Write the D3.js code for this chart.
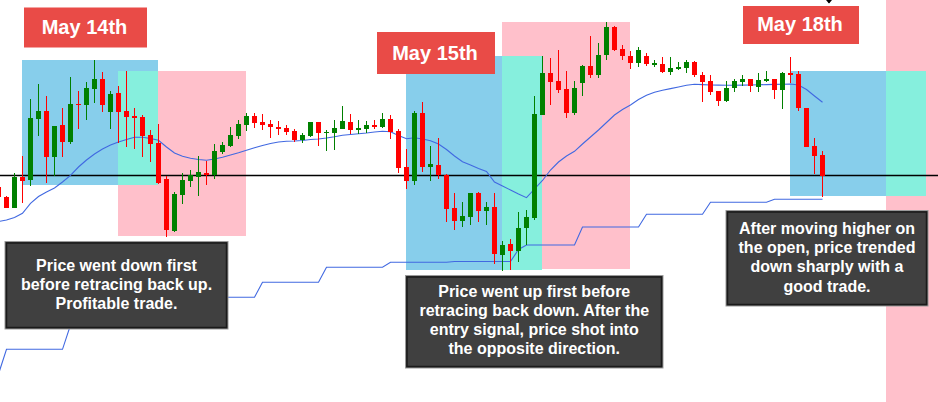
<!DOCTYPE html>
<html>
<head>
<meta charset="utf-8">
<script src="https://cdn.jsdelivr.net/npm/d3@7"></script>
<style>
  html, body { margin: 0; padding: 0; background: #ffffff; }
  svg { display: block; }
</style>
</head>
<body>
<svg id="chart" width="938" height="402"></svg>
<script>
// ---------------- DATA ----------------
const opens = [213.3,203.3,192.3,223,220.3,281.3,289,243.3,274.7,258.3,
  296.3,295.3,311.3,321,288.3,307,289,284,283,265,
  257.3,221,169.3,205.3,219.3,223.3,227,224.7,248,254.3,
  264.3,275.3,284,278,276.3,273,272,269,260,264.3,
  278,266.7,267.3,271.3,278,270,271,275,273,281,
  269,233,219.3,287,233.3,235,225,192,179.3,183.3,
  207,189.3,193,145,156,149,172,182,285,327,
  319,311,287.3,317.3,334,325,345,373,351,344,
  337.3,344,335.3,336,328,331,332,338,325,319,
  309,299,312,318,321,313,319,321,310,327,
  326,292,254,245];
const highs = [215,204,226.7,244,301,316,304,274,292,323,
  309.3,318,340,328,309,314,329,292,285,270,
  276,224,208,226.7,230,244,239.3,256,258,273.3,
  280,286.7,286.7,286,280,279,275,270.7,267,278,
  278,270,280,294,286,280,279,280,287,285.3,
  271,251,289,298,254,262,226,207,198,207,
  208.3,198,207,159,161,188,190,304,344,342,
  350,329,319,335,364,357,378.3,374,355,349,
  353,346.7,340,343,343,338,340,339,328,325,
  309,319,321,325,321,327,329,321,328,343,
  329,292,262,249];
const lows = [202,192,192.3,197.3,214.3,264.3,217.3,224.3,243.3,255.7,
  271,280.3,297,288.3,271.3,256.7,253.3,251.3,243.3,238.3,
  216,163.3,168.3,196.3,213.3,204.3,215.3,221.3,246.3,253.3,
  261.3,269.3,272.3,270,262.3,265.3,265.3,258.3,257.3,263.3,
  254.3,249.3,250,271.3,266,266,267,271,272.3,261.3,
  227.3,211.3,215.3,228,219.3,221.3,178.3,170.3,173.3,175,
  178.3,175,135.7,129,130,138,155,180,285,295,
  307.3,282.3,285.3,304.3,322.3,322.3,340,349.3,340,331.3,
  333.3,334.3,332.7,327,325,330,327,323.3,298,305,
  294,298,308,314,308,308,318,301,291,317,
  289,253,226,203];
const closes = [203.3,192.3,223,219.3,282,289,243.3,274,258.3,296,
  295.7,312,321,295.3,306,288.3,283.3,282.3,264.3,256.3,
  217.3,170.3,206,220,224.7,228,225,249,255,265,
  276.3,284,277.3,275.3,273.3,272.3,268.3,260,264.7,278,
  266.7,268.3,272,278.7,270,272,275,273.3,281,268.3,
  232.3,219.3,287,233,236,225,191.3,179.3,184,207,
  189.3,193.3,146,155,149,172,183,286,327,318.3,
  310.3,287.3,312,334,325,345,373,350.3,344.3,337.3,
  350,335.7,337.3,328,332,333,338,325,318,308,
  299,312,319,321,314,320,321,310,327,325,
  292,253,244,224];
const maValues = [178.5,180,182.5,186.7,196.7,203.5,208,212,218,224.7,
  233,240,246,251,255,258,260.5,262.7,262.7,261.5,
  259.7,253,247,243.7,241.7,240.5,239.7,241,242.7,245,
  247.3,249.8,252.2,254.5,256.5,258,258.8,259,259.5,260.5,
  261,262,263.2,264.8,265.5,266.2,267,268,268.7,268.3,
  264.5,261.2,262.3,261,259.3,256,250.5,244,238.2,235,
  231.5,228.5,218,214,210,206,202.3,211,219.5,230,
  238,244,248.7,256,263,270,277.5,285,290.5,295,
  300.5,304.7,307.7,309.7,311.4,313,314.7,315.8,315.4,315,
  314.9,314.7,314.8,314.9,315,315.2,315.4,315.6,315.8,316,
  315,310.5,304,297.7];
const stepValues = [26,
  50.7,50.7,50.7,50.7,50.7,50.7,50.7,50.7,
  75,75,75,75,75,75,75,75,
  102.7,102.7,102.7,102.7,102.7,102.7,102.7,102.7,102.7,102.7,102.7,102.7,102.7,102.7,102.7,102.7,
  117.7,117.7,117.7,117.7,117.7,117.7,117.7,117.7,
  132.7,132.7,132.7,132.7,132.7,132.7,132.7,132.7,
  137.7,137.7,137.7,137.7,137.7,137.7,137.7,137.7,
  138.5,138.5,138.5,138.5,138.5,138.5,138.5,138.5,
  150.5,
  155,155,155,155,155,155,155,
  173,173,173,173,173,173,173,173,
  185.7,185.7,185.7,185.7,185.7,185.7,185.7,185.7,
  197.7,197.7,197.7,197.7,197.7,197.7,197.7,197.7,
  200.7,200.7,200.7,200.7,200.7,200.7,200.7];
const referenceLevel = 224.5;

// zones: kind, from/to candle index, top/bottom price
const zoneKinds   = ["entry","target","overlap","entry","target","overlap","entry","target","overlap"];
const zoneFrom    = [3, 15, 15, 51, 63, 63, 99, 111, 111];
const zoneTo      = [20, 31, 20, 63, 79, 68, 111, 125, 116];
const zoneTop     = [340, 329, 329, 344, 378, 344, 329, 410, 329];
const zoneBottom  = [215, 164, 215, 130, 131.5, 130, 204, -10, 204];

const dayLabels = ["May 14th", "May 15th", "May 18th"];
const notes = [
  ["Price went down first", "before retracing back up.", "Profitable trade."],
  ["Price went up first before", "retracing back down. After the", "entry signal, price shot into", "the opposite direction."],
  ["After moving higher on", "the open, price trended", "down sharply with a", "good trade."]
];

// ---------------- DRAW ----------------
const W = 938, H = 402;
const svg = d3.select("#chart");
const x = d3.scaleLinear().domain([0, 100]).range([-2, 798]);
const y = d3.scaleLinear().domain([0, 400]).range([400, 0]);
const FONT = "'Liberation Sans', Arial, Helvetica, sans-serif";

const zoneColor = { entry: "#87CEEB", target: "#FFC0CB", overlap: "#86EFDD" };
const zones = zoneKinds.map((k, i) => ({ kind: k, from: zoneFrom[i], to: zoneTo[i], top: zoneTop[i], bottom: zoneBottom[i] }));
// draw entry, then target, then overlap
const order = { entry: 0, target: 1, overlap: 2 };
svg.append("g").attr("shape-rendering", "crispEdges")
  .selectAll("rect").data(zones.slice().sort((a, b) => order[a.kind] - order[b.kind]))
  .join("rect")
  .attr("x", d => x(d.from))
  .attr("width", d => x(d.to) - x(d.from))
  .attr("y", d => y(d.top))
  .attr("height", d => y(d.bottom) - y(d.top))
  .attr("fill", d => zoneColor[d.kind]);

const candles = opens.map((o, i) => ({ i, o, h: highs[i], l: lows[i], c: closes[i] }));

// step line
svg.append("path")
  .datum(stepValues)
  .attr("fill", "none")
  .attr("stroke", "#4169E1")
  .attr("stroke-width", 1.1)
  .attr("d", d3.line().x((d, i) => x(i) + 0.5).y(d => y(d)));

// horizontal reference line
svg.append("line")
  .attr("x1", 0).attr("x2", W)
  .attr("y1", y(referenceLevel)).attr("y2", y(referenceLevel))
  .attr("stroke", "#000").attr("stroke-width", 1.3);

// moving average
svg.append("path")
  .datum(maValues)
  .attr("fill", "none")
  .attr("stroke", "#4169E1")
  .attr("stroke-width", 1.1)
  .attr("d", d3.line().x((d, i) => x(i) + 0.5).y(d => y(d)));

// candles
const cg = svg.append("g").attr("shape-rendering", "crispEdges");
const col = d => d.c >= d.o ? "#008000" : "#FF0000";
cg.selectAll("line.wick").data(candles).join("line")
  .attr("class", "wick")
  .attr("x1", d => Math.round(x(d.i)) + 0.5).attr("x2", d => Math.round(x(d.i)) + 0.5)
  .attr("y1", d => y(d.h)).attr("y2", d => y(d.l))
  .attr("stroke", col).attr("stroke-width", 1);
cg.selectAll("rect.body").data(candles).join("rect")
  .attr("class", "body")
  .attr("x", d => Math.round(x(d.i)) - 2)
  .attr("width", 5)
  .attr("y", d => y(Math.max(d.o, d.c)))
  .attr("height", d => Math.max(1.5, Math.abs(y(d.o) - y(d.c))))
  .attr("fill", col);

// small marker at top
svg.append("path").attr("d", "M826,0 L832,0 L829,3.5 Z").attr("fill", "#000");
svg.append("line").attr("x1", 829).attr("x2", 829).attr("y1", 0).attr("y2", 3).attr("stroke", "#000");

// day labels
const labelBoxes = [
  { x: 24, y: 7.5, w: 123, h: 40, base: 34 },
  { x: 377, y: 32, w: 118, h: 42, base: 59.5 },
  { x: 743, y: 6, w: 116, h: 38, base: 31 }
];
dayLabels.forEach((t, i) => {
  const b = labelBoxes[i];
  svg.append("rect").attr("x", b.x).attr("y", b.y).attr("width", b.w).attr("height", b.h)
    .attr("fill", "#E94B47");
  svg.append("text").attr("x", b.x + b.w / 2 - 1).attr("y", b.base)
    .attr("text-anchor", "middle").attr("fill", "#fff")
    .attr("font-family", FONT).attr("font-weight", "bold").attr("font-size", 20)
    .text(t);
});

// note boxes
const noteBoxes = [
  { x: 5, y: 241.5, w: 223, h: 87.5, base: 270.7, step: 19 },
  { x: 405.5, y: 275.5, w: 257.5, h: 92.5, base: 297.3, step: 19 },
  { x: 726, y: 210.5, w: 202, h: 95.5, base: 234, step: 19.2 }
];
notes.forEach((lines, i) => {
  const b = noteBoxes[i];
  svg.append("rect").attr("x", b.x).attr("y", b.y).attr("width", b.w).attr("height", b.h)
    .attr("fill", "#404040").attr("stroke", "#9a9a9a").attr("stroke-width", 1);
  svg.append("rect").attr("x", b.x + 1.5).attr("y", b.y + 1.5).attr("width", b.w - 3).attr("height", b.h - 3)
    .attr("fill", "none").attr("stroke", "#1a1a1a").attr("stroke-width", 1.5);
  const t = svg.append("text").attr("text-anchor", "middle").attr("fill", "#fff")
    .attr("font-family", FONT).attr("font-weight", "bold").attr("font-size", 16);
  lines.forEach((ln, j) => {
    t.append("tspan").attr("x", b.x + b.w / 2).attr("y", b.base + j * b.step).text(ln);
  });
});
</script>
</body>
</html>
